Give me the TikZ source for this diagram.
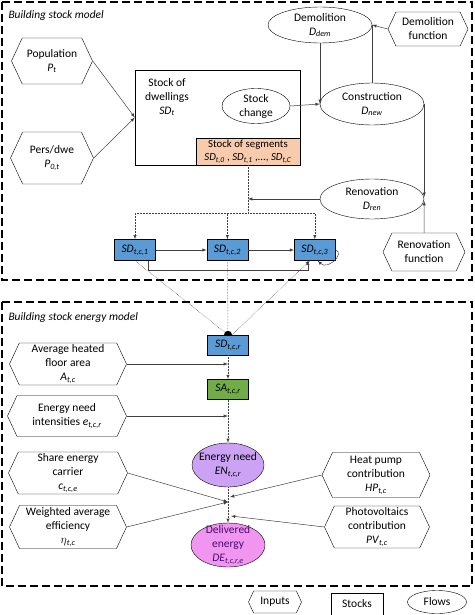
\documentclass[tikz,border=0pt]{standalone}
\usepackage{fontspec}
\setmainfont{Carlito}
\usetikzlibrary{positioning,shapes.geometric,shapes.symbols}
\definecolor{segfill}{RGB}{248,203,173}
\definecolor{sdfill}{RGB}{91,155,213}
\definecolor{safill}{RGB}{112,173,71}
\definecolor{enfill}{RGB}{204,162,245}
\definecolor{defill}{RGB}{240,150,240}
\definecolor{detext}{RGB}{75,10,110}
\newcommand{\vsub}[2]{\textit{#1}\textsubscript{\textit{#2}}}
\tikzset{inputblock/.style={draw,signal,signal to=west and east,signal pointer angle=130,align=center,inner sep=1pt}}
\tikzset{stockblock/.style={draw,rectangle,align=center,inner sep=1pt}}
\tikzset{flowblock/.style={draw,ellipse,inner sep=0pt}}
\tikzset{segblock/.style={draw,fill=sdfill,minimum width=41pt,minimum height=21pt,inner sep=0pt}}
\tikzset{frame/.style={line width=1.8pt,dash pattern=on 8pt off 4pt}}
\tikzset{link/.style={draw=black!75,line width=0.5pt}}
\tikzset{>=latex}

\begin{document}
\begin{tikzpicture}[x=1pt,y=-1pt,font=\fontsize{11.5}{14}\selectfont]
    \useasboundingbox (0,0) rectangle (474,615);

    % building stock model
    \draw [frame] (2,2) rectangle (472,280);
    \node (title1) [anchor=west,font=\fontsize{11.4}{13}\selectfont\itshape] at (5,16) {Building stock model};

    \node (pop) [inputblock,minimum width=81pt,minimum height=46pt] at (52,61) {Population\\\vsub{P}{t}};
    \node (pdw) [inputblock,minimum width=83pt,minimum height=52pt] at (52,158) {Pers/dwe\\\vsub{P}{0,t}};
    \node (dwell) [stockblock,minimum width=165pt,minimum height=95pt] at (217.5,117.5) {};
    \node (dwelltxt) [align=center] at (167,97) {Stock of\\dwellings\\\vsub{SD}{t}};
    \node (seg) [stockblock,fill=segfill,minimum width=104pt,minimum height=27pt,anchor=south east,font=\fontsize{10.8}{13}\selectfont] at (dwell.south east) {Stock of segments\\\vsub{SD}{t,0} , \vsub{SD}{t,1} ,..., \vsub{SD}{t,C}};
    \node (chg) [flowblock,minimum width=68pt,minimum height=35pt,label={[align=center]center:Stock\\change}] at (256,106) {};

    \node (dem) [flowblock,minimum width=104pt,minimum height=36pt,label={[align=center]center:Demolition\\\vsub{D}{dem}}] at (320,25) {};
    \node (demf) [inputblock,minimum width=80pt,minimum height=34pt] at (428,29) {Demolition\\function};
    \node (con) [flowblock,minimum width=104pt,minimum height=42pt,label={[align=center]center:Construction\\\vsub{D}{new}}] at (372,104) {};
    \node (ren) [flowblock,minimum width=104pt,minimum height=40pt,label={[align=center]center:Renovation\\\vsub{D}{ren}}] at (372,199) {};
    \node (renf) [inputblock,minimum width=82pt,minimum height=38pt] at (424,252) {Renovation\\function};

    \node (sd1) [segblock] at (135,250) {\vsub{SD}{t,c,1}};
    \node (sd2) [segblock,right=51pt of sd1] {\vsub{SD}{t,c,2}};
    \node (sd3) [segblock,right=46pt of sd2] {\vsub{SD}{t,c,3}};
    \coordinate (hub) at ([yshift=-48pt]seg.south);

    \draw [link,->] (pop.east) -- (dwell.west);
    \draw [link,->] (pdw.east) -- (dwell.west);
    \draw [link,->] (chg.east) -- (con.west);
    \draw [link,->] (dem.south) -- (dem.south |- con.west);
    \draw [link] (con.north) -- (con.north |- dem.east);
    \draw [link,->] (demf.west) -- (dem.east);
    \draw [link,->] (con.east) -- ([yshift=2pt]ren.east);
    \draw [link,->] (renf.north) -- ([yshift=-2pt]ren.east);
    \draw [link,->] (ren.west) -- (ren.west -| seg.south);

    \draw [link,densely dotted] (seg.south) -- (hub);
    \draw [link,densely dotted,->] (hub) -| (sd1.north);
    \draw [link,densely dotted,->] (hub) -| (sd2.north);
    \draw [link,densely dotted,->] (hub) -| (sd3.north);
    \draw [link,->] (sd1) -- (sd2);
    \draw [link,->] (sd2) -- (sd3);
    \draw [link,->] ([xshift=13pt]sd1.south) -- ++(0,10) -| ([xshift=-7pt]sd3.south);
    \draw [link,->] (sd3.east) .. controls +(10,3) and +(10,10) .. ([xshift=3pt]sd3.south);

    % building stock energy model
    \draw [frame] (2,302) rectangle (472,586);
    \node (title2) [anchor=west,font=\fontsize{11.4}{13}\selectfont\itshape] at (5,318) {Building stock energy model};

    \node (sdr) [segblock,minimum height=20pt] at (228,345) {\vsub{SD}{t,c,r}};
    \node (sar) [segblock,fill=safill,minimum height=20pt,below=24pt of sdr] {\vsub{SA}{t,c,r}};
    \node (en) [flowblock,fill=enfill,minimum width=72pt,minimum height=44pt,label={[align=center]center:Energy need\\\vsub{EN}{t,c,r}}] at (228,465) {};
    \node (de) [flowblock,fill=defill,minimum width=74pt,minimum height=44pt] at (228,545) {};
    \node (detxt) [align=center] at (de) {\color{detext}Delivered\\\color{detext}energy\\\color{detext}\vsub{DE}{t,c,r,e}};

    \node (area) [inputblock,minimum width=117pt,minimum height=42pt] at (68,364) {Average heated\\floor area\\\vsub{A}{t,c}};
    \node (inten) [inputblock,minimum width=119pt,minimum height=41pt] at (67,416) {Energy need\\intensities \vsub{e}{t,c,r}};
    \node (share) [inputblock,minimum width=119pt,minimum height=42pt] at (68,473) {Share energy\\carrier\\\vsub{c}{t,c,e}};
    \node (eff) [inputblock,minimum width=117pt,minimum height=43pt] at (68,527) {Weighted average\\efficiency\\$\eta$\textsubscript{\textit{t,c}}};
    \node (hp) [inputblock,minimum width=108pt,minimum height=45pt] at (376,475) {Heat pump\\contribution\\\vsub{HP}{t,c}};
    \node (pv) [inputblock,minimum width=105pt,minimum height=42pt] at (377,527) {Photovoltaics\\contribution\\\vsub{PV}{t,c}};
    \coordinate (mix) at (228,502);
    \coordinate (hpin) at (230,497);
    \coordinate (pvin) at (231,516);

    \draw [link,densely dotted] (sd1.south) -- (sdr.north);
    \draw [link,densely dotted] (sd2.south) -- (sdr.north);
    \draw [link,densely dotted,->] ([xshift=4pt]sdr.north) -- ([xshift=-5pt]sd3.south);
    \fill ([xshift=-4pt]sdr.north) arc [start angle=180,end angle=0,radius=4pt] -- cycle;
    \draw [link,->] (area.east) -- (area.east -| sdr.south);
    \draw [link,densely dotted,->] (sdr) -- (sar);
    \draw [link,->] (inten.east) -- (inten.east -| sar.south);
    \draw [link,densely dotted,->] (sar) -- (en);
    \draw [link,densely dotted,->] (en) -- (de);
    \draw [link,->] (share.east) -- (mix);
    \draw [link,->] (eff.east) -- (mix);
    \draw [link,->] (hp.west) -- (hpin);
    \draw [link,->] (pv.west) -- (pvin);

    % legend
    \node (leginp) [inputblock,minimum width=53pt,minimum height=22pt] at (275,602) {Inputs};
    \node (legstk) [stockblock,minimum width=52pt,minimum height=22pt] at (357,604) {Stocks};
    \node (legflw) [flowblock,minimum width=59pt,minimum height=23pt,label=center:Flows] at (437,602) {};
\end{tikzpicture}
\end{document}
